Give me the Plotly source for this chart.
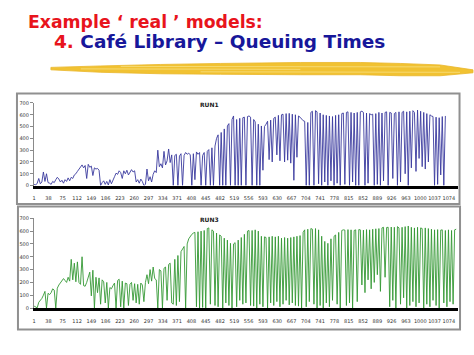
import plotly.graph_objects as go

W, H = 474, 355

# ---------------- data (one value every 4 samples) ----------------
sample_step = 4

run1_y = [
    10, 5, 20, 60, 15, 30, 115, 35, 100, 25,          # 1..37
    20, 10, 35, 25, 50, 70, 55, 30, 45, 20,           # 41..77
    50, 35, 65, 40, 70, 60, 90, 100, 120, 140,        # 81..117
    160, 175, 150, 170, 60, 180, 155, 165, 85, 150,   # 121..157
    140, 145, 130, 0, 25, 40, 10, 35, 5, 50,          # 161..197
    15, 55, 75, 105, 95, 125, 110, 60, 125, 100,      # 201..237
    130, 90, 120, 135, 115, 125, 30, 50, 20, 55,      # 241..277
    35, 0, 10, 140, 40, 75, 30, 95, 125, 110,         # 281..317
    300, 160, 185, 150, 290, 175, 210, 310, 195, 260, # 321..357
    0, 255, 265, 0, 250, 270, 0, 255, 280, 265,       # 361..397
    275, 260, 0, 270, 50, 285, 265, 280, 0, 255,      # 401..437
    280, 0, 290, 305, 0, 320, 0, 335, 400, 430,       # 441..477
    0, 450, 0, 480, 0, 505, 525, 0, 560, 590,         # 481..517
    0, 560, 0, 570, 0, 575, 580, 0, 585, 590,         # 521..557
    580, 0, 560, 540, 0, 520, 0, 505, 130, 500,       # 561..597
    520, 545, 220, 555, 200, 570, 580, 260, 595, 210, # 601..637
    600, 605, 200, 610, 215, 612, 190, 605, 45, 600,  # 641..677
    240, 590, 580, 560, 550, 545, 0, 535, 0, 620,     # 681..717
    630, 0, 635, 625, 15, 615, 0, 600, 30, 595,       # 721..757
    0, 590, 40, 585, 0, 595, 20, 600, 0, 610,         # 761..797
    615, 10, 620, 625, 0, 620, 30, 615, 0, 620,       # 801..837
    0, 625, 630, 620, 0, 615, 20, 610, 600, 605,      # 841..877
    0, 610, 10, 620, 0, 615, 40, 620, 625, 0,         # 881..917
    620, 615, 60, 610, 620, 0, 625, 30, 620, 630,     # 921..957
    100, 625, 0, 630, 150, 635, 620, 120, 640, 230,   # 961..997
    630, 160, 620, 140, 610, 200, 600, 590, 585, 0,   # 1001..1037
    580, 10, 575, 90, 585, 0, 590,                    # 1041..1065
]

run3_y = [
    15, 5, 2, 45, 60, 75, 100, 130, 0, 115,           # 1..37
    105, 120, 150, 140, 0, 155, 180, 200, 210, 230,   # 41..77
    215, 200, 240, 210, 380, 220, 350, 205, 360, 200, # 81..117
    185, 400, 175, 170, 200, 250, 280, 95, 295, 0,    # 121..157
    240, 120, 235, 30, 220, 205, 40, 200, 0, 160,     # 161..197
    150, 175, 195, 0, 215, 225, 10, 210, 0, 195,      # 201..237
    190, 20, 185, 200, 60, 190, 40, 185, 30, 195,     # 241..277
    180, 50, 200, 260, 190, 300, 210, 320, 230, 220,  # 281..317
    0, 300, 290, 0, 310, 320, 60, 340, 350, 40,       # 321..357
    30, 380, 20, 410, 50, 440, 460, 480, 0, 500,      # 361..397
    540, 560, 575, 585, 590, 10, 595, 0, 600, 5,      # 401..437
    605, 0, 620, 625, 30, 610, 600, 20, 585, 10,      # 441..477
    570, 560, 0, 545, 40, 530, 20, 505, 0, 500,       # 481..517
    510, 10, 530, 60, 550, 30, 575, 40, 600, 605,     # 521..557
    20, 605, 15, 610, 0, 600, 30, 560, 10, 555,       # 561..597
    550, 0, 555, 40, 560, 20, 555, 50, 560, 10,       # 601..637
    545, 30, 550, 60, 545, 25, 550, 40, 555, 20,      # 641..677
    560, 15, 565, 0, 590, 610, 10, 615, 50, 620,      # 681..717
    615, 30, 620, 0, 610, 20, 560, 0, 520, 40,        # 721..757
    505, 10, 540, 60, 560, 570, 30, 590, 0, 605,      # 761..797
    610, 608, 20, 612, 40, 610, 0, 605, 610, 50,      # 801..837
    612, 610, 180, 608, 120, 612, 220, 610, 150, 615, # 841..877
    200, 618, 260, 620, 130, 625, 630, 240, 628, 630, # 881..917
    10, 632, 60, 630, 0, 635, 625, 30, 630, 80,       # 921..957
    635, 0, 640, 20, 630, 50, 625, 10, 630, 40,       # 961..997
    625, 620, 0, 625, 30, 620, 10, 615, 60, 610,      # 1001..1037
    20, 612, 0, 608, 610, 40, 605, 10, 610, 50,       # 1041..1077
    605, 30, 610, 615,                                # 1081..1093
]

x_tick_labels = [1, 38, 75, 112, 149, 186, 223, 260, 297, 334, 371, 408, 445,
                 482, 519, 556, 593, 630, 667, 704, 741, 778, 815, 852, 889,
                 926, 963, 1000, 1037, 1074]
y_tick_labels = [0, 100, 200, 300, 400, 500, 600, 700]
run_names = ["RUN1", "RUN3"]

run1_x = list(range(1, 1 + sample_step * len(run1_y), sample_step))
run3_x = list(range(1, 1 + sample_step * len(run3_y), sample_step))


def fx(p):
    return p / W


def fy(p):
    return 1 - p / H


fig = go.Figure()
fig.add_trace(go.Scatter(x=run1_x, y=run1_y, mode="lines",
                         line=dict(color="#3a3a9e", width=0.9),
                         xaxis="x", yaxis="y", hoverinfo="skip"))
fig.add_trace(go.Scatter(x=run3_x, y=run3_y, mode="lines",
                         line=dict(color="#349834", width=0.9),
                         xaxis="x2", yaxis="y2", hoverinfo="skip"))

tick_font = dict(family="DejaVu Sans", size=5, color="#333333")

xcommon = dict(range=[0.5, 1097], tickmode="array", tickvals=x_tick_labels,
               ticktext=[str(v) for v in x_tick_labels], tickangle=0,
               tickfont=tick_font, showline=True, linecolor="#000000",
               linewidth=2.5, showgrid=False, zeroline=False, ticks="",
               ticklabelstandoff=6, fixedrange=True)
ycommon = dict(range=[0, 700], tickmode="array", tickvals=y_tick_labels,
               tickfont=tick_font, showline=True, linecolor="#8a8a8a",
               linewidth=1, ticks="outside", ticklen=3, tickcolor="#8a8a8a",
               showgrid=False, zeroline=False, fixedrange=True)

fig.update_layout(
    width=W, height=H, margin=dict(l=0, r=0, t=0, b=0),
    paper_bgcolor="white", plot_bgcolor="white", showlegend=False,
    xaxis=dict(domain=[fx(33), fx(457.7)], anchor="y", **xcommon),
    yaxis=dict(domain=[fy(185.7), fy(101.7)], anchor="x", **ycommon),
    xaxis2=dict(domain=[fx(33), fx(457.7)], anchor="y2", **xcommon),
    yaxis2=dict(domain=[fy(310.3), fy(219)], anchor="x2", **ycommon),
)

# chart frames
for (x0, y0, x1, y1) in [(16, 92, 459.5, 204.5), (17, 207, 460, 332)]:
    fig.add_shape(type="rect", xref="paper", yref="paper",
                  x0=fx(x0), x1=fx(x1), y0=fy(y1), y1=fy(y0),
                  line=dict(color="#909090", width=2), fillcolor="rgba(0,0,0,0)")

# yellow highlighter stroke
top = [(50, 65.5), (100, 64), (160, 62.5), (220, 61.5), (300, 60.5), (360, 60.5), (400, 61.5), (440, 63), (473, 68)]
bot = [(473, 71), (440, 74), (400, 74), (360, 73), (300, 73), (220, 72.5), (160, 72), (100, 70.5), (50, 68)]
pts = top + bot
path = "M " + " L ".join(f"{fx(a):.4f},{fy(b):.4f}" for a, b in pts) + " Z"
fig.add_shape(type="path", xref="paper", yref="paper", path=path,
              fillcolor="#f1c232", line=dict(color="#eab62a", width=0.8))
for (a0, a1, b) in [(120, 440, 64.5), (200, 460, 70.0), (80, 300, 67.0)]:
    fig.add_shape(type="line", xref="paper", yref="paper",
                  x0=fx(a0), x1=fx(a1), y0=fy(b), y1=fy(b + 0.5),
                  line=dict(color="#f7da72", width=1))

# titles
fig.add_annotation(xref="paper", yref="paper", x=fx(25), y=fy(19.5),
                   xanchor="left", yanchor="middle", showarrow=False,
                   text="<b>Example ‘ real ’ models:</b>",
                   font=dict(family="DejaVu Sans", size=17.3, color="#e8141c"))
fig.add_annotation(xref="paper", yref="paper", x=fx(51), y=fy(39.2),
                   xanchor="left", yanchor="middle", showarrow=False,
                   text="<b><span style='color:#e8141c'>4.</span> Café Library – Queuing Times</b>",
                   font=dict(family="DejaVu Sans", size=18.5, color="#17179a"))

# run labels
for name, ypix in zip(run_names, [103, 220]):
    fig.add_annotation(xref="paper", yref="paper", x=fx(208.5), y=fy(ypix),
                       xanchor="center", yanchor="middle", showarrow=False,
                       text=f"<b>{name}</b>",
                       font=dict(family="DejaVu Sans", size=6, color="#1a1a1a"))

fig.write_html("out.html")
